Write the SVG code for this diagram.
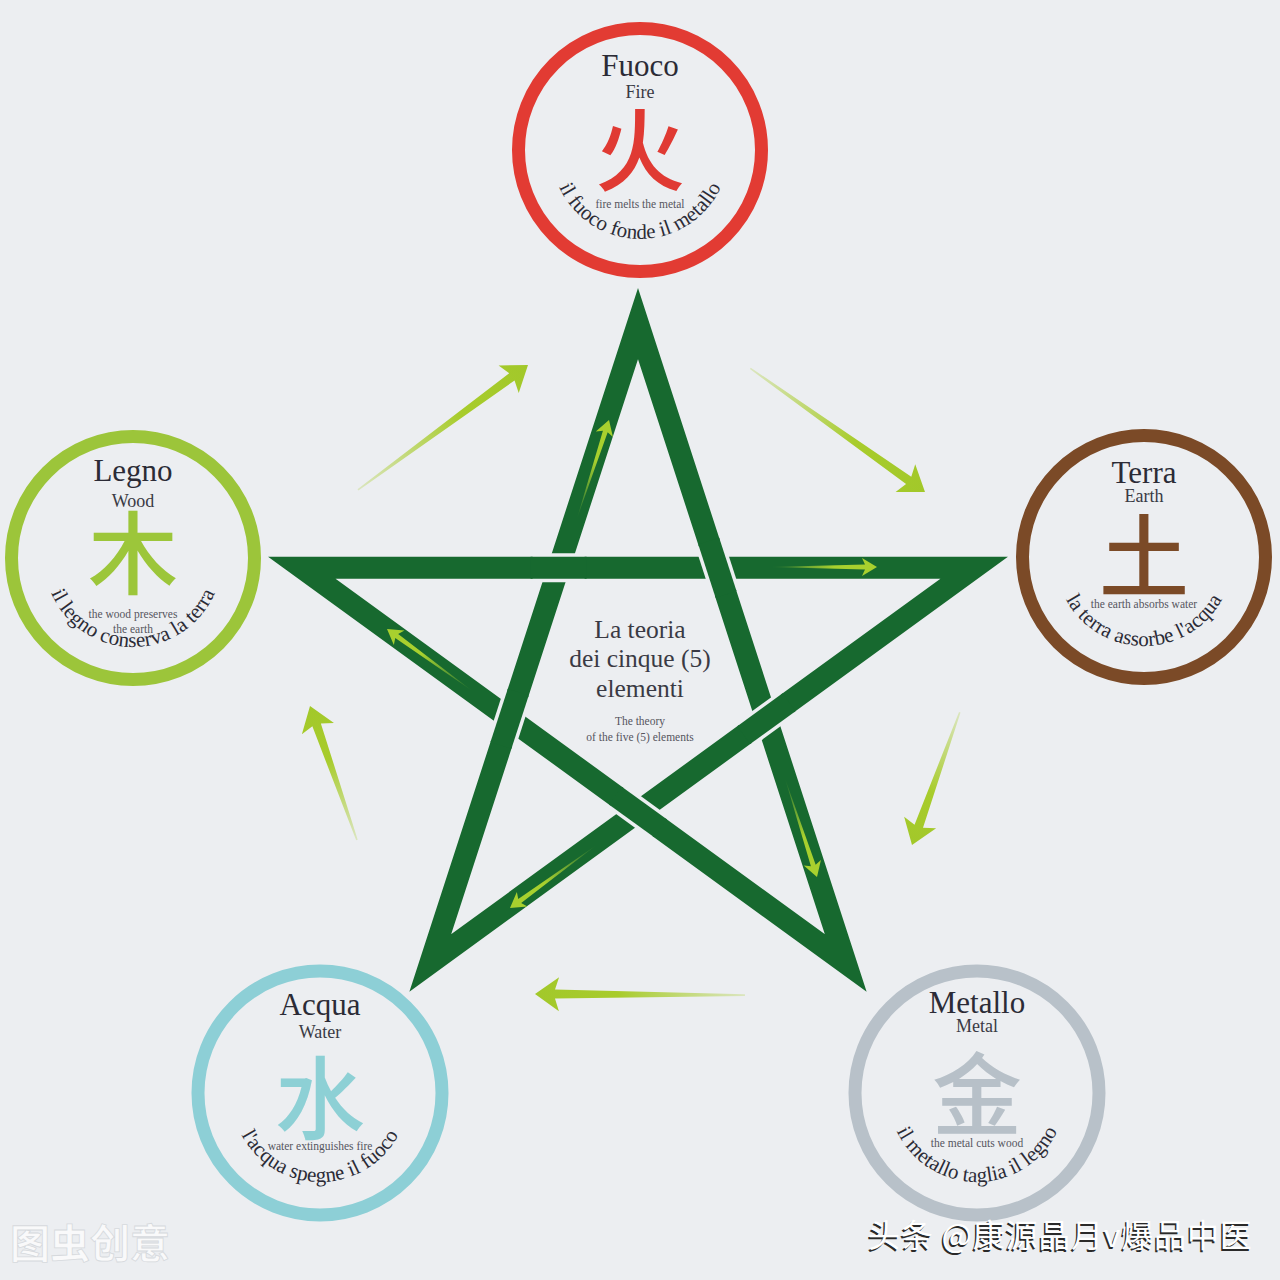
<svg xmlns="http://www.w3.org/2000/svg" width="1280" height="1280" viewBox="0 0 1280 1280">
<style>
.ring{fill:none;stroke-width:13}
.title{font-family:"Liberation Serif","DejaVu Serif",serif;font-size:31px;fill:#2b2b36;text-anchor:middle}
.sub{font-family:"Liberation Serif","DejaVu Serif",serif;font-size:18px;fill:#3a3a44;text-anchor:middle}
.han{font-family:"Noto Sans CJK SC","Noto Sans CJK JP",sans-serif;font-size:90px;font-weight:500;text-anchor:middle}
.small{font-family:"Liberation Serif","DejaVu Serif",serif;font-size:11.5px;fill:#55555e;text-anchor:middle}
.arc{font-family:"Liberation Serif","DejaVu Serif",serif;font-size:21px;fill:#2b2b36;text-anchor:middle}
.ctitle{font-family:"Liberation Serif","DejaVu Serif",serif;font-size:25.5px;fill:#3a3a44;text-anchor:middle}
.csmall{font-family:"Liberation Serif","DejaVu Serif",serif;font-size:11.5px;fill:#55555e;text-anchor:middle}
.band{fill:none;stroke:#17692f;stroke-width:22;stroke-linejoin:miter;stroke-miterlimit:10}
.gap{fill:none;stroke:#eceef1;stroke-width:29;stroke-linecap:butt}
.over{fill:none;stroke:#17692f;stroke-width:22;stroke-linecap:butt}
.oarrow{fill:url(#fadeOuter)}
.iarrow{fill:url(#fadeInner)}
.wm{font-family:"Noto Sans CJK SC",sans-serif;font-size:32px;letter-spacing:0.8px}
</style>
<defs>
<linearGradient id="fadeOuter" x1="0" y1="0" x2="1" y2="0">
<stop offset="0" stop-color="#a8cc2c" stop-opacity="0.25"/>
<stop offset="0.6" stop-color="#a8cc2c" stop-opacity="1"/>
<stop offset="1" stop-color="#a2c82a"/>
</linearGradient>
<linearGradient id="fadeInner" x1="0" y1="0" x2="1" y2="0">
<stop offset="0" stop-color="#b4d83a" stop-opacity="0"/>
<stop offset="0.6" stop-color="#a8d02e" stop-opacity="1"/>
<stop offset="1" stop-color="#a8d02e"/>
</linearGradient>
<path id="arcFuoco" d="M551,150 A89,89 0 0 0 729,150"/>
<path id="arcLegno" d="M44,558 A89,89 0 0 0 222,558"/>
<path id="arcTerra" d="M1055,557 A89,89 0 0 0 1233,557"/>
<path id="arcAcqua" d="M231,1093 A89,89 0 0 0 409,1093"/>
<path id="arcMetallo" d="M888,1093 A89,89 0 0 0 1066,1093"/>
</defs>

<rect x="0" y="0" width="1280" height="1280" fill="#eceef1"/>

<g id="star">
<path class="band" d="M638,323.6 L430.3,962.9 L974.1,567.8 L301.9,567.8 L845.7,962.9 Z"/>
<path class="gap" d="M532.6,567.8 L584.6,567.8"/>
<path class="over" d="M530.6,567.8 L586.6,567.8"/>
<path class="gap" d="M709.4,543.1 L725.4,592.5"/>
<path class="over" d="M708.75,541.2 L726.05,594.4"/>
<path class="gap" d="M745.4,734 L787.4,703.4"/>
<path class="over" d="M743.75,735.16 L789.05,702.24"/>
<path class="gap" d="M617,796.7 L659,827.3"/>
<path class="over" d="M615.35,795.54 L660.65,828.46"/>
<path class="gap" d="M517.6,694 L501.6,743.4"/>
<path class="over" d="M518.25,692.1 L500.95,745.3"/>
</g>

<g id="connectors">
<path class="iarrow" transform="translate(609,420) rotate(-72)" d="M0,0 L-15,-9 L-12,-2.5 L-104,0 L-12,2.5 L-15,9 Z"/>
<path class="iarrow" transform="translate(877,567) rotate(0)" d="M0,0 L-15,-9 L-12,-2.5 L-107,0 L-12,2.5 L-15,9 Z"/>
<path class="iarrow" transform="translate(817,877) rotate(72)" d="M0,0 L-15,-9 L-12,-2.5 L-104,0 L-12,2.5 L-15,9 Z"/>
<path class="iarrow" transform="translate(510,908) rotate(144)" d="M0,0 L-15,-9 L-12,-2.5 L-107,0 L-12,2.5 L-15,9 Z"/>
<path class="iarrow" transform="translate(387,629) rotate(216)" d="M0,0 L-15,-9 L-12,-2.5 L-106,0 L-12,2.5 L-15,9 Z"/>

<path class="oarrow" transform="translate(528,365) rotate(-36.3)" d="M0,0 L-24,-17 L-20,-4.5 L-211,-0.8 L-211,0.8 L-20,4.5 L-24,17 Z"/>
<path class="oarrow" transform="translate(925,492) rotate(35.3)" d="M0,0 L-24,-17 L-20,-4.5 L-214,-0.8 L-214,0.8 L-20,4.5 L-24,17 Z"/>
<path class="oarrow" transform="translate(912,845) rotate(109.8)" d="M0,0 L-24,-17 L-20,-4.5 L-141,-0.8 L-141,0.8 L-20,4.5 L-24,17 Z"/>
<path class="oarrow" transform="translate(535,994) rotate(180.3)" d="M0,0 L-24,-17 L-20,-4.5 L-210,-0.8 L-210,0.8 L-20,4.5 L-24,17 Z"/>
<path class="oarrow" transform="translate(310,706) rotate(250.7)" d="M0,0 L-24,-17 L-20,-4.5 L-142,-0.8 L-142,0.8 L-20,4.5 L-24,17 Z"/>
</g>

<g id="center">
<text class="ctitle" x="640" y="638">La teoria</text>
<text class="ctitle" x="640" y="667">dei cinque (5)</text>
<text class="ctitle" x="640" y="697">elementi</text>
<text class="csmall" x="640" y="725">The theory</text>
<text class="csmall" x="640" y="741">of the five (5) elements</text>
</g>

<g id="fuoco">
<circle class="ring" cx="640" cy="150" r="121.5" stroke="#e23b33"/>
<text class="title" x="640" y="76">Fuoco</text>
<text class="sub" x="640" y="98">Fire</text>
<text class="han" x="640" y="184" fill="#e03a33">火</text>
<text class="small" x="640" y="208">fire melts the metal</text>
<text class="arc"><textPath href="#arcFuoco" startOffset="50%">il fuoco fonde il metallo</textPath></text>
</g>

<g id="legno">
<circle class="ring" cx="133" cy="558" r="121.5" stroke="#9cc53a"/>
<text class="title" x="133" y="481">Legno</text>
<text class="sub" x="133" y="507">Wood</text>
<text class="han" x="133" y="587" fill="#9cc63a">木</text>
<text class="small" x="133" y="618">the wood preserves</text>
<text class="small" x="133" y="633">the earth</text>
<text class="arc"><textPath href="#arcLegno" startOffset="50%">il legno conserva la terra</textPath></text>
</g>

<g id="terra">
<circle class="ring" cx="1144" cy="557" r="121.5" stroke="#7b4a27"/>
<text class="title" x="1144" y="483">Terra</text>
<text class="sub" x="1144" y="502">Earth</text>
<text class="han" x="1144" y="590" fill="#7b4a27">土</text>
<text class="small" x="1144" y="608">the earth absorbs water</text>
<text class="arc"><textPath href="#arcTerra" startOffset="50%">la terra assorbe l'acqua</textPath></text>
</g>

<g id="acqua">
<circle class="ring" cx="320" cy="1093" r="122" stroke="#8dcfd6"/>
<text class="title" x="320" y="1015">Acqua</text>
<text class="sub" x="320" y="1038">Water</text>
<text class="han" x="320" y="1132" fill="#8dd0d5">水</text>
<text class="small" x="320" y="1150">water extinguishes fire</text>
<text class="arc"><textPath href="#arcAcqua" startOffset="50%">l'acqua spegne il fuoco</textPath></text>
</g>

<g id="metallo">
<circle class="ring" cx="977" cy="1093" r="122" stroke="#b8c1c9"/>
<text class="title" x="977" y="1013">Metallo</text>
<text class="sub" x="977" y="1032">Metal</text>
<text class="han" x="977" y="1128" fill="#b7c0c8">金</text>
<text class="small" x="977" y="1147">the metal cuts wood</text>
<text class="arc"><textPath href="#arcMetallo" startOffset="50%">il metallo taglia il legno</textPath></text>
</g>

<g id="watermarks">
<text x="10" y="1258" font-family="Noto Sans CJK SC, sans-serif" font-size="40" font-weight="700" fill="#ffffff" fill-opacity="0.7" stroke="#d6d9dd" stroke-width="0.8">图虫创意</text>
<text class="wm" x="866.5" y="1248.5" fill="#2a2a2a">头条 @康源晶月v爆品中医</text>
<text class="wm" x="868" y="1247" fill="#ffffff">头条 @康源晶月v爆品中医</text>
</g>
</svg>
